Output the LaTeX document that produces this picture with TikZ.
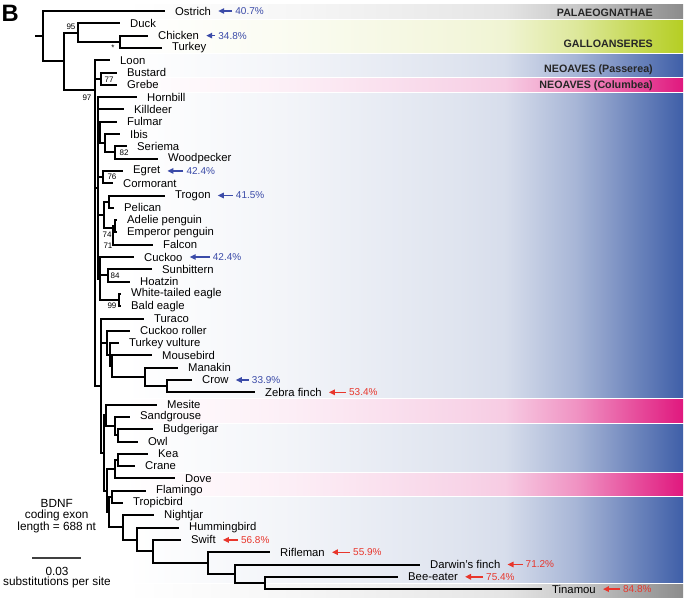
\documentclass[tikz,border=0pt]{standalone}
\usepackage{fontspec}
\setmainfont{Liberation Sans}
\usetikzlibrary{positioning,arrows.meta}

\definecolor{pctblue}{HTML}{3B4BA8}
\definecolor{pctred}{HTML}{E8362C}
\definecolor{passlight}{HTML}{DFE4EF}
\definecolor{passdark}{HTML}{3F5FA8}
\definecolor{collight}{HTML}{F8D5E8}
\definecolor{coldark}{HTML}{E0187E}
\definecolor{gallight}{HTML}{F3F6DC}
\definecolor{galdark}{HTML}{B5CE23}
\definecolor{pallight}{HTML}{E9E9E9}
\definecolor{paldark}{HTML}{8C8C8C}

\newcommand\taxonfont{\fontsize{11.3}{13}\selectfont}
\newcommand\pctfont{\fontsize{10}{12}\selectfont}
\newcommand\bsfont{\fontsize{8}{9}\selectfont}
\newcommand\cladefont{\fontsize{10.7}{12}\selectfont\bfseries}
\newcommand\notefont{\fontsize{11.8}{10.8}\selectfont}

\newcommand\bandshading[3]{%
  \pgfdeclarehorizontalshading{#1}{100bp}{color(0bp)=(white); color(28bp)=(white);
    color(42bp)=(#2!40!white); color(56bp)=(#2); color(60bp)=(#3!5!#2);
    color(66bp)=(#3!35!#2); color(70.5bp)=(#3!68!#2); color(75bp)=(#3); color(100bp)=(#3)}}
\bandshading{passshade}{passlight}{passdark}
\bandshading{colshade}{collight}{coldark}
\bandshading{galshade}{gallight}{galdark}
\bandshading{palshade}{pallight}{paldark}

\begin{document}
\begin{tikzpicture}[x=1pt, y=-1pt,
  branch/.style={line width=2pt},
  leaf/.style={anchor=west, xshift=9pt, inner sep=1pt, font=\taxonfont},
  pct/.style={inner sep=1pt, font=\pctfont},
  parrow/.style={line width=1.4pt, -{Triangle[length=6pt,width=5.5pt]}, shorten <=2pt, shorten >=6pt},
  bs/.style={inner sep=0pt, font=\bsfont},
  clade/.style={anchor=east, inner sep=0pt, font=\cladefont, text=black!85},
  note/.style={align=center, inner sep=0pt, font=\notefont}]

\useasboundingbox (0,0) rectangle (685,597);
\fill[white] (0,0) rectangle (685,597);

\shade[shading=palshade] (90,4) rectangle (683,18.5);
\shade[shading=galshade] (90,20) rectangle (683,52.5);
\shade[shading=passshade] (90,54.5) rectangle (683,76.5);
\shade[shading=colshade] (90,78.5) rectangle (683,91.5);
\shade[shading=passshade] (90,93) rectangle (683,397.5);
\shade[shading=colshade] (90,399.5) rectangle (683,422);
\shade[shading=passshade] (90,424) rectangle (683,471.2);
\shade[shading=colshade] (90,473.2) rectangle (683,495.8);
\shade[shading=passshade] (90,497.8) rectangle (683,582);
\shade[shading=palshade] (90,584) rectangle (683,597);

\node[clade] (palaeo) at (653,12.7) {PALAEOGNATHAE};
\node[clade] (galloans) at (653,44.3) {GALLOANSERES};
\node[clade] (passerea) at (653,70) {NEOAVES (Passerea)};
\node[clade] (columbea) at (653,85.3) {NEOAVES (Columbea)};

\node[anchor=base west, inner sep=0pt, font=\fontsize{23.7}{24}\selectfont\bfseries] (panel) at (1.5,21.7) {B};

\coordinate (t-ostrich) at (165,11); \node[leaf] (ostrich) at (t-ostrich) {Ostrich};
\coordinate (t-duck) at (120,23.3); \node[leaf] (duck) at (t-duck) {Duck};
\coordinate (t-chicken) at (148,35.6); \node[leaf] (chicken) at (t-chicken) {Chicken};
\coordinate (t-turkey) at (162,47.9); \node[leaf] (turkey) at (t-turkey) {Turkey};
\coordinate (t-loon) at (110,60.2); \node[leaf] (loon) at (t-loon) {Loon};
\coordinate (t-bustard) at (117,72.5); \node[leaf] (bustard) at (t-bustard) {Bustard};
\coordinate (t-grebe) at (117,84.8); \node[leaf] (grebe) at (t-grebe) {Grebe};
\coordinate (t-hornbill) at (137,97.1); \node[leaf] (hornbill) at (t-hornbill) {Hornbill};
\coordinate (t-killdeer) at (124,109.4); \node[leaf] (killdeer) at (t-killdeer) {Killdeer};
\coordinate (t-fulmar) at (117,121.7); \node[leaf] (fulmar) at (t-fulmar) {Fulmar};
\coordinate (t-ibis) at (120,134); \node[leaf] (ibis) at (t-ibis) {Ibis};
\coordinate (t-seriema) at (127,146.3); \node[leaf] (seriema) at (t-seriema) {Seriema};
\coordinate (t-woodpecker) at (158,158.6); \node[leaf] (woodpecker) at (t-woodpecker) {Woodpecker};
\coordinate (t-egret) at (123,170.9); \node[leaf] (egret) at (t-egret) {Egret};
\coordinate (t-cormorant) at (113,183.2); \node[leaf] (cormorant) at (t-cormorant) {Cormorant};
\coordinate (t-trogon) at (165,195.5); \node[leaf] (trogon) at (t-trogon) {Trogon};
\coordinate (t-pelican) at (114,207.8); \node[leaf] (pelican) at (t-pelican) {Pelican};
\coordinate (t-adelie) at (117,220.1); \node[leaf] (adelie) at (t-adelie) {Adelie penguin};
\coordinate (t-emperor) at (117,232.4); \node[leaf] (emperor) at (t-emperor) {Emperor penguin};
\coordinate (t-falcon) at (153,244.7); \node[leaf] (falcon) at (t-falcon) {Falcon};
\coordinate (t-cuckoo) at (134,257); \node[leaf] (cuckoo) at (t-cuckoo) {Cuckoo};
\coordinate (t-sunbittern) at (152,269.3); \node[leaf] (sunbittern) at (t-sunbittern) {Sunbittern};
\coordinate (t-hoatzin) at (130,281.6); \node[leaf] (hoatzin) at (t-hoatzin) {Hoatzin};
\coordinate (t-wteagle) at (121,293.9); \node[leaf] (wteagle) at (t-wteagle) {White-tailed eagle};
\coordinate (t-baldeagle) at (121,306.2); \node[leaf] (baldeagle) at (t-baldeagle) {Bald eagle};
\coordinate (t-turaco) at (144,318.5); \node[leaf] (turaco) at (t-turaco) {Turaco};
\coordinate (t-croller) at (130,330.8); \node[leaf] (croller) at (t-croller) {Cuckoo roller};
\coordinate (t-tvulture) at (119,343.1); \node[leaf] (tvulture) at (t-tvulture) {Turkey vulture};
\coordinate (t-mousebird) at (152,355.4); \node[leaf] (mousebird) at (t-mousebird) {Mousebird};
\coordinate (t-manakin) at (178,367.7); \node[leaf] (manakin) at (t-manakin) {Manakin};
\coordinate (t-crow) at (192,380); \node[leaf] (crow) at (t-crow) {Crow};
\coordinate (t-zebra) at (255,392.3); \node[leaf] (zebra) at (t-zebra) {Zebra finch};
\coordinate (t-mesite) at (157,404.6); \node[leaf] (mesite) at (t-mesite) {Mesite};
\coordinate (t-sandgrouse) at (130,416.9); \node[leaf] (sandgrouse) at (t-sandgrouse) {Sandgrouse};
\coordinate (t-budgerigar) at (153,429.2); \node[leaf] (budgerigar) at (t-budgerigar) {Budgerigar};
\coordinate (t-owl) at (138,441.5); \node[leaf] (owl) at (t-owl) {Owl};
\coordinate (t-kea) at (148,453.8); \node[leaf] (kea) at (t-kea) {Kea};
\coordinate (t-crane) at (135,466.1); \node[leaf] (crane) at (t-crane) {Crane};
\coordinate (t-dove) at (175,478.4); \node[leaf] (dove) at (t-dove) {Dove};
\coordinate (t-flamingo) at (146,490.7); \node[leaf] (flamingo) at (t-flamingo) {Flamingo};
\coordinate (t-tropicbird) at (123,503); \node[leaf] (tropicbird) at (t-tropicbird) {Tropicbird};
\coordinate (t-nightjar) at (154,515.3); \node[leaf] (nightjar) at (t-nightjar) {Nightjar};
\coordinate (t-hummingbird) at (179,527.6); \node[leaf] (hummingbird) at (t-hummingbird) {Hummingbird};
\coordinate (t-swift) at (181,539.9); \node[leaf] (swift) at (t-swift) {Swift};
\coordinate (t-rifleman) at (270,552.2); \node[leaf] (rifleman) at (t-rifleman) {Rifleman};
\coordinate (t-darwin) at (420,564.5); \node[leaf] (darwin) at (t-darwin) {Darwin's finch};
\coordinate (t-beeeater) at (398,576.8); \node[leaf] (beeeater) at (t-beeeater) {Bee-eater};
\coordinate (t-tinamou) at (542,589.1); \node[leaf] (tinamou) at (t-tinamou) {Tinamou};

\coordinate (stem) at (35,36.1);
\coordinate (root) at (43,36.1);
\coordinate (neog) at (64,61.25);
\coordinate (gallo) at (78,32.5);
\coordinate (chtu) at (120,41.75);
\coordinate (neo) at (95,90);
\coordinate (bugr) at (101,78.65);
\coordinate (core) at (98,187.8);
\coordinate (fulm) at (100,132.5);
\coordinate (ibisn) at (105,143.2);
\coordinate (sewo) at (115,152.45);
\coordinate (egco) at (103,177);
\coordinate (trpe2) at (104,214.8);
\coordinate (trpe) at (109,201.65);
\coordinate (pefa) at (113,228);
\coordinate (peng) at (115,226.25);
\coordinate (cusu) at (100,278.5);
\coordinate (suho) at (108,275.45);
\coordinate (eagl) at (119,300.05);
\coordinate (lower) at (101,385.8);
\coordinate (crol) at (107,342.7);
\coordinate (tvmo) at (110,354.6);
\coordinate (momc) at (112,366.2);
\coordinate (maco) at (145,376.9);
\coordinate (crze) at (167,386.15);
\coordinate (c2) at (104,453);
\coordinate (mesa) at (106,415.4);
\coordinate (sabo) at (115,426.1);
\coordinate (buow) at (118,435.35);
\coordinate (c3) at (107,490.7);
\coordinate (kcd) at (115,469.2);
\coordinate (keacr) at (118,459.95);
\coordinate (ftn) at (109,512.1);
\coordinate (fltr) at (112,496.85);
\coordinate (nhs) at (123,527.4);
\coordinate (husw) at (137,539.5);
\coordinate (swri) at (153,551.4);
\coordinate (rida) at (208,563);
\coordinate (dabt) at (235,573.7);
\coordinate (bttn) at (265,582.95);

\draw[branch] (stem) -- (root);
\draw[branch] (root) |- (t-ostrich) (root) |- (neog);
\draw[branch] (neog) |- (gallo) (neog) |- (neo);
\draw[branch] (gallo) |- (t-duck) (gallo) |- (chtu);
\draw[branch] (chtu) |- (t-chicken) (chtu) |- (t-turkey);
\draw[branch] (neo) |- (t-loon) (neo) |- (bugr) (neo) |- (core) (neo) |- (lower);
\draw[branch] (bugr) |- (t-bustard) (bugr) |- (t-grebe);
\draw[branch] (core) |- (t-hornbill) (core) |- (t-killdeer) (core) |- (fulm) (core) |- (egco) (core) |- (trpe2) (core) |- (cusu);
\draw[branch] (fulm) |- (t-fulmar) (fulm) |- (ibisn);
\draw[branch] (ibisn) |- (t-ibis) (ibisn) |- (sewo);
\draw[branch] (sewo) |- (t-seriema) (sewo) |- (t-woodpecker);
\draw[branch] (egco) |- (t-egret) (egco) |- (t-cormorant);
\draw[branch] (trpe2) |- (trpe) (trpe2) |- (pefa);
\draw[branch] (trpe) |- (t-trogon) (trpe) |- (t-pelican);
\draw[branch] (pefa) |- (peng) (pefa) |- (t-falcon);
\draw[branch] (peng) |- (t-adelie) (peng) |- (t-emperor);
\draw[branch] (cusu) |- (t-cuckoo) (cusu) |- (suho) (cusu) |- (eagl);
\draw[branch] (suho) |- (t-sunbittern) (suho) |- (t-hoatzin);
\draw[branch] (eagl) |- (t-wteagle) (eagl) |- (t-baldeagle);
\draw[branch] (lower) |- (t-turaco) (lower) |- (crol) (lower) |- (c2);
\draw[branch] (crol) |- (t-croller) (crol) |- (tvmo);
\draw[branch] (tvmo) |- (t-tvulture) (tvmo) |- (momc);
\draw[branch] (momc) |- (t-mousebird) (momc) |- (maco);
\draw[branch] (maco) |- (t-manakin) (maco) |- (crze);
\draw[branch] (crze) |- (t-crow) (crze) |- (t-zebra);
\draw[branch] (c2) |- (mesa) (c2) |- (c3);
\draw[branch] (mesa) |- (t-mesite) (mesa) |- (sabo);
\draw[branch] (sabo) |- (t-sandgrouse) (sabo) |- (buow);
\draw[branch] (buow) |- (t-budgerigar) (buow) |- (t-owl);
\draw[branch] (c3) |- (kcd) (c3) |- (ftn);
\draw[branch] (kcd) |- (keacr) (kcd) |- (t-dove);
\draw[branch] (keacr) |- (t-kea) (keacr) |- (t-crane);
\draw[branch] (ftn) |- (fltr) (ftn) |- (nhs);
\draw[branch] (fltr) |- (t-flamingo) (fltr) |- (t-tropicbird);
\draw[branch] (nhs) |- (t-nightjar) (nhs) |- (husw);
\draw[branch] (husw) |- (t-hummingbird) (husw) |- (swri);
\draw[branch] (swri) |- (t-swift) (swri) |- (rida);
\draw[branch] (rida) |- (t-rifleman) (rida) |- (dabt);
\draw[branch] (dabt) |- (t-darwin) (dabt) |- (bttn);
\draw[branch] (bttn) |- (t-beeeater) (bttn) |- (t-tinamou);

\node[bs] (bs95) at (71,27) {95};
\node[bs] (bsstar) at (113,48) {*};
\node[bs] (bs77) at (109,80) {77};
\node[bs] (bs97) at (87,98) {97};
\node[bs] (bs82) at (124,153) {82};
\node[bs] (bs76) at (112,177) {76};
\node[bs] (bs74) at (107,235) {74};
\node[bs] (bs71) at (108,246) {71};
\node[bs] (bs84) at (115,276) {84};
\node[bs] (bs99) at (112,306) {99};

\node[pct, text=pctblue, right=22pt of ostrich] (p-ostrich) {40.7\%};
\node[pct, text=pctblue, right=17pt of chicken] (p-chicken) {34.8\%};
\node[pct, text=pctblue, right=24pt of egret] (p-egret) {42.4\%};
\node[pct, text=pctblue, right=23pt of trogon] (p-trogon) {41.5\%};
\node[pct, text=pctblue, right=28pt of cuckoo] (p-cuckoo) {42.4\%};
\node[pct, text=pctblue, right=21pt of crow] (p-crow) {33.9\%};
\node[pct, text=pctred, right=25pt of zebra] (p-zebra) {53.4\%};
\node[pct, text=pctred, right=23pt of swift] (p-swift) {56.8\%};
\node[pct, text=pctred, right=26pt of rifleman] (p-rifleman) {55.9\%};
\node[pct, text=pctred, right=23pt of darwin] (p-darwin) {71.2\%};
\node[pct, text=pctred, right=26pt of beeeater] (p-beeeater) {75.4\%};
\node[pct, text=pctred, right=25pt of tinamou] (p-tinamou) {84.8\%};

\draw[parrow, pctblue] (p-ostrich) -- (ostrich);
\draw[parrow, pctblue] (p-chicken) -- (chicken);
\draw[parrow, pctblue] (p-egret) -- (egret);
\draw[parrow, pctblue] (p-trogon) -- (trogon);
\draw[parrow, pctblue] (p-cuckoo) -- (cuckoo);
\draw[parrow, pctblue] (p-crow) -- (crow);
\draw[parrow, pctred] (p-zebra) -- (zebra);
\draw[parrow, pctred] (p-swift) -- (swift);
\draw[parrow, pctred] (p-rifleman) -- (rifleman);
\draw[parrow, pctred] (p-darwin) -- (darwin);
\draw[parrow, pctred] (p-beeeater) -- (beeeater);
\draw[parrow, pctred] (p-tinamou) -- (tinamou);

\node[note] (bdnf) at (56.7,516.5) {BDNF\\coding exon\\length = 688 nt};
\coordinate (sb-l) at (32,558);
\coordinate (sb-r) at (81,558);
\draw[line width=1.4pt, black!75] (sb-l) -- (sb-r);
\node[note] (sbtext) at (57,577.5) {0.03\\substitutions per site};

\end{tikzpicture}
\end{document}
